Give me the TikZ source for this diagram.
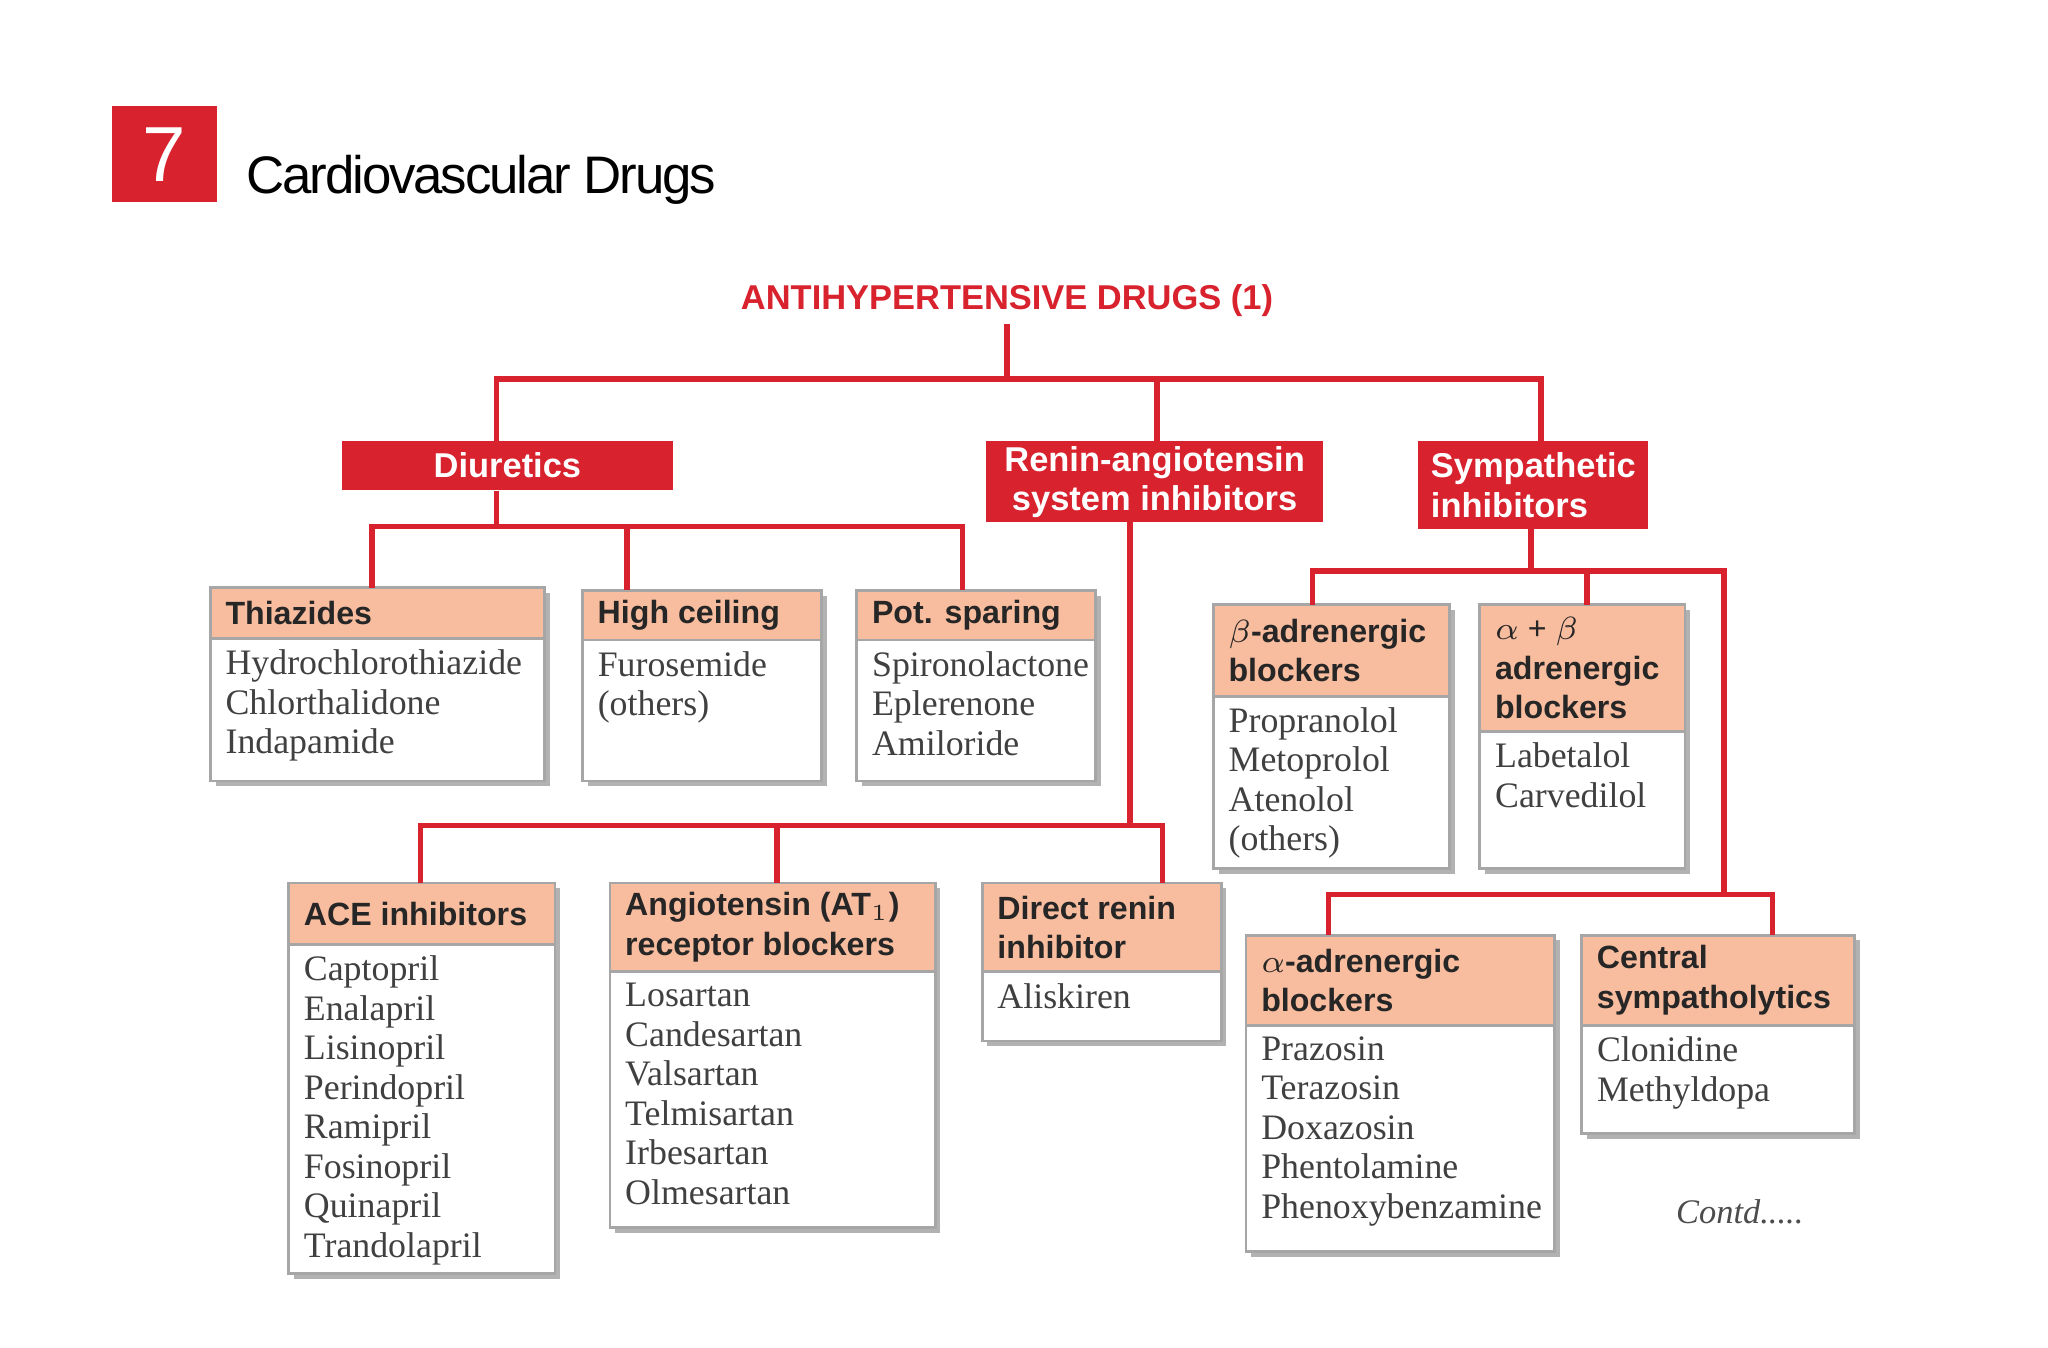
\documentclass[tikz,border=0pt]{standalone}
\usepackage{fontspec}
\setmainfont{Liberation Serif}
\setsansfont{Liberation Sans}
\usetikzlibrary{fit}
\definecolor{dred}{HTML}{D8222E}
\definecolor{salmon}{HTML}{F8BC9E}
\tikzset{
 link/.style={draw=dred,line width=1.2pt},
 redbox/.style={fill=dred,inner sep=0},
 redtxt/.style={text=white,font=\sffamily\bfseries\fontsize{7.5}{8.6}\selectfont,align=center},
 head/.style={font=\sffamily\bfseries\fontsize{7}{8.6}\selectfont,align=left,text=black!85,inner sep=0},
 body/.style={font=\fontsize{7.8}{8.6}\selectfont,align=left,text=black!75,inner sep=0},
}
\newcommand\dbox[8]{%
 \fill[black!30] (#2+4,#3+4) rectangle (#5+4,#6+4);
 \node[fit={(#2,#3)(#5,#6)},inner sep=0,draw=black!35,fill=white,line width=0.6pt] (#1) {};
 \node[fit={(#2,#3)(#5,#4)},inner sep=0,draw=black!35,fill=salmon,line width=0.6pt] (#1h) {};
 \node[head,anchor=west] (#1t) at ([xshift=12*0.01cm]#1h.west) {#7};
 \node[body,anchor=north west] (#1b) at (#2+11,#4+8) {#8};
}
\begin{document}
\begin{tikzpicture}[x=0.01cm,y=-0.01cm]
\useasboundingbox (0,0) rectangle (1568,1032);
\node[fill=dred,fit={(86,81)(166,155)},inner sep=0] (sq) {};
\node[text=white,font=\sffamily\fontsize{17}{17}\selectfont] (seven) at (sq) {7};
\node[anchor=base west,font=\sffamily\fontsize{11.5}{12}\selectfont,inner sep=0] (title) at (188,148) {\addfontfeature{LetterSpace=-4}Cardiovascular Drugs};
\node[font=\sffamily\bfseries\fontsize{7.5}{8}\selectfont,text=dred] (root) at (771,230) {ANTIHYPERTENSIVE DRUGS (1)};
% level 1
\node[redbox,fit={(262,338)(515,375)}] (diu) {};
\node[redtxt] (diut) at (diu) {Diuretics};
\node[redbox,fit={(755,338)(1013,400)}] (ras) {};
\node[redtxt] (rast) at (ras) {Renin-angiotensin\\system inhibitors};
\node[redbox,fit={(1086,338)(1262,405)}] (sym) {};
\node[redtxt,align=left] (symt) at (sym) {Sympathetic\\inhibitors};
\coordinate (r0) at (771,290);
\draw[link] (771,248) -- (r0);
\draw[link] (380,338) -- (380,290) -- (1180,290) -- (1180,338);
\draw[link] (886,290) -- (886,338);
% diuretics
\dbox{thz}{161}{450}{489}{417}{598}{Thiazides}{Hydrochlorothiazide\\Chlorthalidone\\Indapamide}
\dbox{hc}{446}{452}{490}{629}{598}{High ceiling}{Furosemide\\(others)}
\dbox{ps}{656}{452}{490}{839}{598}{Pot. sparing}{Spironolactone\\Eplerenone\\Amiloride}
\draw[link] (diu.south -| 380,0) -- (380,403);
\draw[link] (285,450) -- (285,403) -- (737,403) -- (737,452);
\draw[link] (480,403) -- (480,452);
% RAS
\dbox{ace}{221}{676}{723}{425}{975}{ACE inhibitors}{Captopril\\Enalapril\\Lisinopril\\Perindopril\\Ramipril\\Fosinopril\\Quinapril\\Trandolapril}
\dbox{arb}{467}{676}{744}{716}{940}{Angiotensin (AT$_1$)\\receptor blockers}{Losartan\\Candesartan\\Valsartan\\Telmisartan\\Irbesartan\\Olmesartan}
\dbox{dri}{752}{676}{744}{935}{797}{Direct renin\\inhibitor}{Aliskiren}
\draw[link] (865,400) -- (865,632);
\draw[link] (322,676) -- (322,632) -- (890,632) -- (890,676);
\draw[link] (595,632) -- (595,676);
% sympathetic
\dbox{beta}{929}{463}{533}{1110}{665}{\textmd{$\beta$}-adrenergic\\blockers}{Propranolol\\Metoprolol\\Atenolol\\(others)}
\dbox{ab}{1133}{463}{560}{1290}{665}{\textmd{$\alpha$ + $\beta$}\\adrenergic\\blockers}{Labetalol\\Carvedilol}
\dbox{alp}{954}{716}{785}{1190}{958}{\textmd{$\alpha$}-adrenergic\\blockers}{Prazosin\\Terazosin\\Doxazosin\\Phentolamine\\Phenoxybenzamine}
\dbox{cen}{1211}{716}{785}{1420}{868}{Central\\sympatholytics}{Clonidine\\Methyldopa}
\draw[link] (1172,405) -- (1172,437);
\draw[link] (1005,463) -- (1005,437) -- (1320,437) -- (1320,685);
\draw[link] (1215,437) -- (1215,463);
\draw[link] (1017,716) -- (1017,685) -- (1357,685) -- (1357,716);
\node[font=\itshape\fontsize{7.5}{8}\selectfont,text=black!70] (contd) at (1332,928) {Contd.....};
\end{tikzpicture}
\end{document}
